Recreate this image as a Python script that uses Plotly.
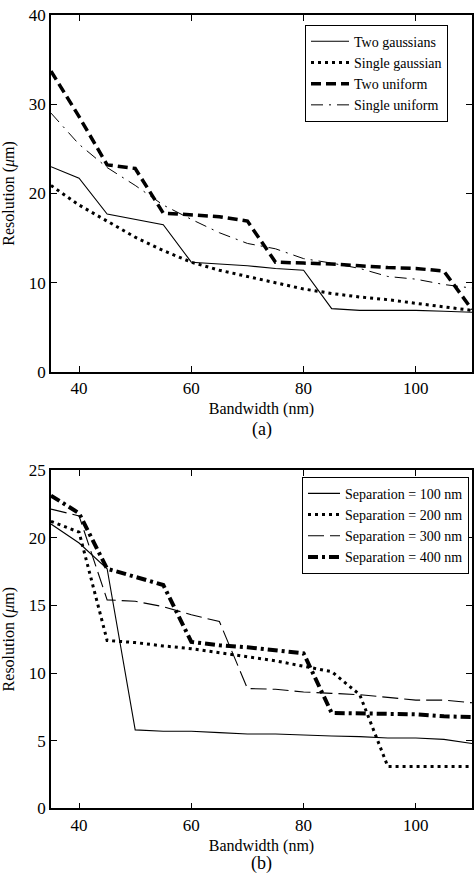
import plotly.graph_objects as go

# bandwidth axis values (nm)
bandwidth = [35, 40, 45, 50, 55, 60, 65, 70, 75, 80, 85, 90, 95, 100, 105, 110]

# panel (a)
two_gaussians = [23.0, 21.7, 17.7, 17.1, 16.5, 12.3, 12.1, 11.9, 11.6, 11.4, 7.1, 6.9, 6.9, 6.9, 6.8, 6.7]
single_gaussian = [20.9, 18.7, 16.9, 15.1, 13.6, 12.3, 11.4, 10.7, 10.0, 9.3, 8.8, 8.4, 8.1, 7.7, 7.3, 6.9]
two_uniform = [33.7, 28.6, 23.2, 22.8, 17.8, 17.6, 17.4, 16.9, 12.3, 12.2, 12.1, 11.9, 11.7, 11.6, 11.3, 7.0]
single_uniform = [29.0, 25.5, 22.9, 20.9, 18.7, 17.1, 15.6, 14.4, 13.8, 12.7, 12.2, 11.6, 10.7, 10.4, 9.8, 9.4]

# panel (b)
sep_100 = [21.0, 19.6, 17.7, 5.8, 5.7, 5.7, 5.6, 5.5, 5.5, 5.4, 5.35, 5.3, 5.2, 5.2, 5.1, 4.8]
sep_200 = [21.2, 20.4, 12.4, 12.25, 12.0, 11.8, 11.5, 11.2, 10.9, 10.5, 10.1, 8.4, 3.1, 3.1, 3.1, 3.1]
sep_300 = [22.1, 21.6, 15.4, 15.3, 14.9, 14.3, 13.8, 8.85, 8.8, 8.6, 8.5, 8.4, 8.2, 8.0, 8.0, 7.8]
sep_400 = [23.1, 21.8, 17.7, 17.1, 16.5, 12.3, 12.05, 11.9, 11.7, 11.45, 7.05, 7.0, 7.0, 6.95, 6.8, 6.75]

serif = "Liberation Serif"
W, H = 474, 884

fig = go.Figure()

top = [
    ("Two gaussians", two_gaussians, 1.1, "solid"),
    ("Single gaussian", single_gaussian, 3, "3px,4px"),
    ("Two uniform", two_uniform, 3.5, "10px,5px"),
    ("Single uniform", single_uniform, 1, "12px,6px,2px,6px"),
]
for name, vals, w, d in top:
    fig.add_trace(go.Scatter(x=bandwidth, y=vals, mode="lines", name=name,
                             line=dict(color="black", width=w, dash=d),
                             xaxis="x", yaxis="y", legend="legend"))

bottom = [
    ("Separation = 100 nm", sep_100, 1.1, "solid"),
    ("Separation = 200 nm", sep_200, 3, "3px,4px"),
    ("Separation = 300 nm", sep_300, 1.1, "16px,6px"),
    ("Separation = 400 nm", sep_400, 4, "10px,4px,3px,4px"),
]
for name, vals, w, d in bottom:
    fig.add_trace(go.Scatter(x=bandwidth, y=vals, mode="lines", name=name,
                             line=dict(color="black", width=w, dash=d),
                             xaxis="x2", yaxis="y2", legend="legend2"))

axis_style = dict(showline=True, linecolor="black", linewidth=1.5, mirror="ticks",
                  ticks="inside", ticklen=6, tickcolor="black", tickwidth=1.2,
                  showgrid=False, zeroline=False,
                  tickfont=dict(family=serif, size=17, color="black"))
title_font = dict(family=serif, size=16, color="black")
legend_font = dict(family=serif, size=14, color="black")

fig.update_layout(
    width=W, height=H,
    margin=dict(l=51, r=2, t=0, b=0),
    plot_bgcolor="white", paper_bgcolor="white",
    showlegend=True,
    xaxis=dict(domain=[0, 1], range=[35, 110], tickvals=[40, 60, 80, 100], anchor="y",
               title=dict(text="Bandwidth (nm)", font=title_font, standoff=6),
               **axis_style),
    yaxis=dict(domain=[1 - 371 / H, 1 - 6 / H], range=[0, 40], dtick=10, anchor="x",
               title=dict(text="Resolution (<i>μ</i>m)", font=title_font, standoff=10),
               **axis_style),
    xaxis2=dict(domain=[0, 1], range=[35, 110], tickvals=[40, 60, 80, 100], anchor="y2",
                title=dict(text="Bandwidth (nm)", font=title_font, standoff=6),
                **axis_style),
    yaxis2=dict(domain=[1 - 817 / H, 1 - 471 / H], range=[0, 25], dtick=5, anchor="x2",
                title=dict(text="Resolution (<i>μ</i>m)", font=title_font, standoff=10),
                **axis_style),
    legend=dict(x=(305 - 51) / 421, y=1 - 16 / H, xanchor="left", yanchor="top",
                itemwidth=38, bgcolor="white", bordercolor="black", borderwidth=1,
                font=legend_font),
    legend2=dict(x=(302 - 51) / 421, y=1 - 478 / H, xanchor="left", yanchor="top",
                 itemwidth=32, bgcolor="white", bordercolor="black", borderwidth=1,
                 font=legend_font),
    annotations=[
        dict(text="(a)", x=0.5, y=1 - 430 / H, xref="paper", yref="paper", showarrow=False,
             yanchor="middle", font=dict(family=serif, size=18, color="black")),
        dict(text="(b)", x=0.5, y=1 - 873 / H, xref="paper", yref="paper", showarrow=False,
             yanchor="middle", font=dict(family=serif, size=18, color="black")),
    ],
)

# drop the default page margin so the figure sits at the window's corner
fig.write_html("out.html", config={"displayModeBar": False},
               post_script="document.body.style.margin='0';")
